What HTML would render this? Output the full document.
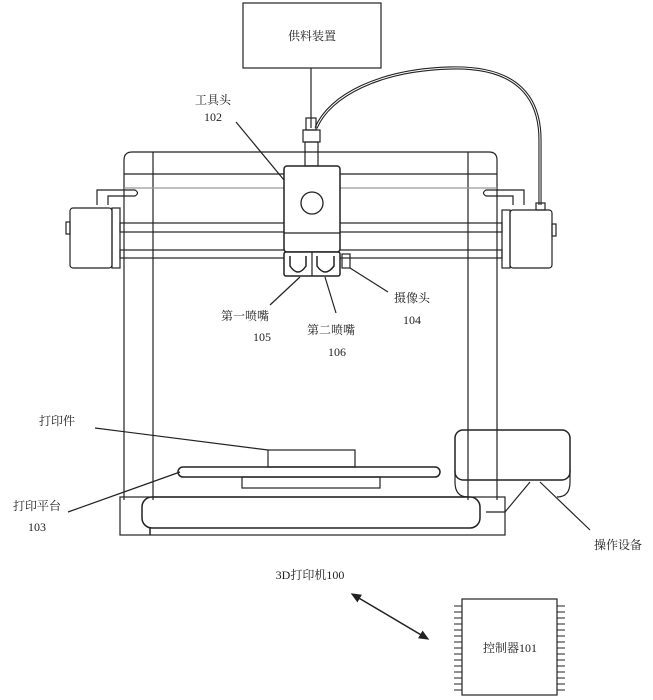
<!DOCTYPE html>
<html><head><meta charset="utf-8"><style>
html,body{margin:0;padding:0;background:#fff;}
svg{display:block;}
text{font-family:"Liberation Serif","Noto Serif CJK SC",serif;font-size:12px;fill:#222;}
</style></head><body>
<svg width="653" height="700" viewBox="0 0 653 700" xmlns="http://www.w3.org/2000/svg" fill="none" stroke="#222" stroke-width="1.2">
<defs><marker id="ah" markerWidth="8" markerHeight="8" refX="6" refY="4" orient="auto-start-reverse"><path d="M0,1 L7,4 L0,7 Z" fill="#222" stroke="none"/></marker></defs>
<!-- supply box -->
<rect x="243" y="3" width="138" height="65"/>
<text x="312" y="40" text-anchor="middle" stroke="none">供料装置</text>
<line x1="311" y1="68" x2="311" y2="128"/>
<path d="M316,128 C330,95 380,70 450,68 C520,66 540,100 540,140 L540,205" stroke-width="3.2"/>
<path d="M316,128 C330,95 380,70 450,68 C520,66 540,100 540,140 L540,205" stroke="#fff" stroke-width="1"/>
<rect x="536" y="203" width="9" height="7"/>
<!-- frame -->
<path d="M124,500 L124,160 Q124,152 132,152 L489,152 Q497,152 497,160 L497,500"/>
<line x1="153" y1="152" x2="153" y2="500"/>
<line x1="468" y1="152" x2="468" y2="500"/>
<line x1="124" y1="174" x2="497" y2="174"/>
<line x1="124" y1="188" x2="497" y2="188" stroke="#999"/>
<!-- left bracket -->
<path d="M97,205 L97,190 L135,190 Q140,193 135,196 L108,196 L108,205"/>
<rect x="70" y="208" width="42" height="60" rx="3"/>
<rect x="66" y="222" width="4" height="12"/>
<rect x="112" y="208" width="8" height="60"/>
<!-- right bracket -->
<path d="M524,205 L524,190 L486,190 Q481,193 486,196 L513,196 L513,205"/>
<rect x="510" y="210" width="42" height="58" rx="3"/>
<rect x="552" y="224" width="4" height="12"/>
<rect x="502" y="210" width="8" height="58"/>
<!-- rails -->
<rect x="120" y="223" width="382" height="9"/>
<rect x="120" y="250" width="382" height="8"/>
<!-- tool head connector -->
<rect x="306" y="118" width="10" height="12"/>
<rect x="303" y="130" width="17" height="12"/>
<rect x="305" y="142" width="13" height="24"/>
<!-- tool head -->
<rect x="284" y="166" width="56" height="86" rx="3" fill="#fff" stroke-width="1.5"/>
<circle cx="312" cy="203" r="11" stroke-width="1.3"/>
<line x1="284" y1="233" x2="340" y2="233"/>
<rect x="284" y="252" width="56" height="24" rx="2" fill="#fff" stroke-width="1.5"/>
<line x1="312" y1="252" x2="312" y2="276"/>
<path d="M290,256 L290,266 Q298,278 306,266 L306,256" stroke-width="1.5"/>
<path d="M317,256 L317,266 Q325,278 334,266 L334,256" stroke-width="1.5"/>
<rect x="342" y="254" width="8" height="14"/>
<!-- labels top -->
<text x="213" y="104" text-anchor="middle" stroke="none">工具头</text>
<text x="213" y="121" text-anchor="middle" stroke="none">102</text>
<line x1="236" y1="122" x2="284" y2="180"/>
<line x1="300" y1="277" x2="270" y2="305"/>
<text x="245" y="320" text-anchor="middle" stroke="none">第一喷嘴</text>
<text x="262" y="341" text-anchor="middle" stroke="none">105</text>
<line x1="325" y1="277" x2="336" y2="313"/>
<text x="331" y="334" text-anchor="middle" stroke="none">第二喷嘴</text>
<text x="337" y="356" text-anchor="middle" stroke="none">106</text>
<line x1="350" y1="268" x2="388" y2="292"/>
<text x="412" y="302" text-anchor="middle" stroke="none">摄像头</text>
<text x="412" y="324" text-anchor="middle" stroke="none">104</text>
<!-- print part & platform -->
<rect x="268" y="450" width="87" height="17"/>
<rect x="178" y="467" width="262" height="10" rx="5" stroke-width="1.5"/>
<rect x="242" y="477" width="138" height="11"/>
<line x1="95" y1="428" x2="268" y2="450"/>
<text x="57" y="425" text-anchor="middle" stroke="none">打印件</text>
<line x1="68" y1="512" x2="180" y2="472"/>
<text x="37" y="510" text-anchor="middle" stroke="none">打印平台</text>
<text x="37" y="531" text-anchor="middle" stroke="none">103</text>
<!-- base -->
<rect x="120" y="497" width="385" height="38"/>
<rect x="142" y="497" width="338" height="31" rx="10" stroke-width="1.5"/>
<line x1="150" y1="528" x2="150" y2="535" stroke-width="1.5"/>
<!-- operating device -->
<rect x="455" y="430" width="115" height="50" rx="8" stroke-width="1.5"/>
<path d="M455,470 L455,482 Q455,497 468,497" />
<path d="M570,470 L570,482 Q570,497 557,497"/>
<line x1="486" y1="512" x2="505" y2="512"/>
<line x1="505" y1="512" x2="530" y2="482"/>
<line x1="540" y1="482" x2="590" y2="530"/>
<text x="618" y="549" text-anchor="middle" stroke="none">操作设备</text>
<!-- 3D printer label, arrow, controller -->
<text x="310" y="579" text-anchor="middle" stroke="none">3D打印机100</text>
<line x1="352" y1="594" x2="428" y2="639" stroke-width="1.5" marker-start="url(#ah)" marker-end="url(#ah)"/>
<rect x="462" y="599" width="95" height="96"/>
<g stroke-width="1">
<path d="M454,606h8M454,612h8M454,618h8M454,624h8M454,630h8M454,636h8M454,642h8M454,648h8M454,654h8M454,660h8M454,666h8M454,672h8M454,678h8M454,684h8M454,690h8"/>
<path d="M557,606h8M557,612h8M557,618h8M557,624h8M557,630h8M557,636h8M557,642h8M557,648h8M557,654h8M557,660h8M557,666h8M557,672h8M557,678h8M557,684h8M557,690h8"/>
</g>
<text x="510" y="652" text-anchor="middle" stroke="none">控制器101</text>
</svg>
</body></html>
